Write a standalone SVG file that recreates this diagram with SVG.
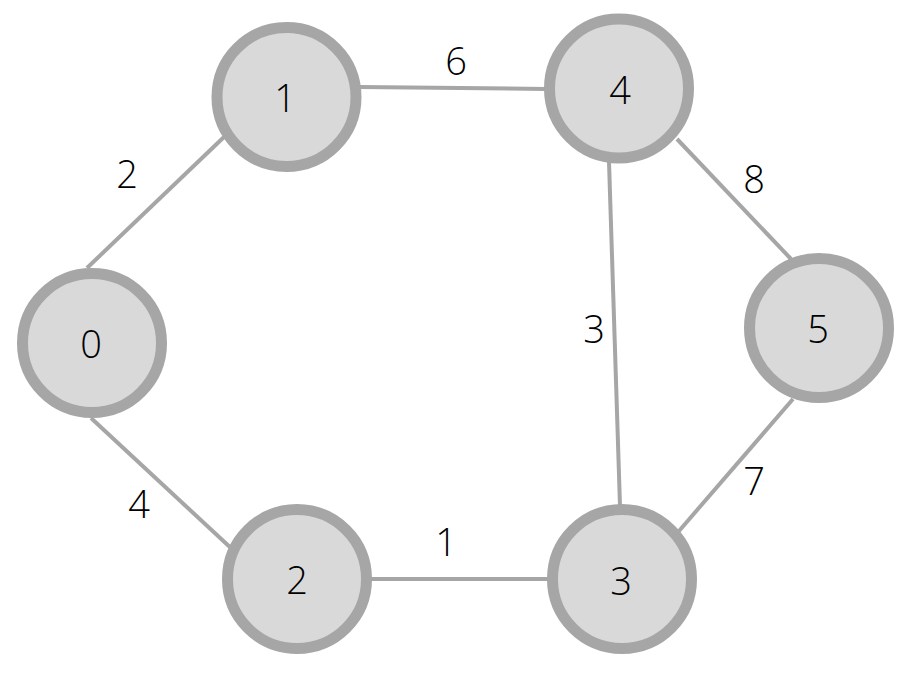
<svg xmlns="http://www.w3.org/2000/svg" width="916" height="676" viewBox="0 0 916 676">
<style>
.edge{stroke:#a6a6a6;stroke-width:4;stroke-linecap:butt;fill:none}
.node circle{fill:#d9d9d9;stroke:#a6a6a6;stroke-width:11}
text{font-family:"Open Sans","Noto Sans","DejaVu Sans",sans-serif;font-size:38px;font-weight:300;fill:#000;text-anchor:middle}
</style>
<rect width="916" height="676" fill="#fff"/>
<g id="connectors">
<line class="edge" x1="87" y1="268" x2="224" y2="137"/>
<line class="edge" x1="91" y1="418" x2="232" y2="549"/>
<line class="edge" x1="360" y1="87" x2="546" y2="89"/>
<line class="edge" x1="370" y1="579" x2="549" y2="579"/>
<line class="edge" x1="609" y1="162" x2="620" y2="506"/>
<line class="edge" x1="677" y1="139" x2="791" y2="259"/>
<line class="edge" x1="793" y1="399" x2="679" y2="531"/>
<text x="127" y="188">2</text>
<text x="139" y="518">4</text>
<text x="456" y="75">6</text>
<text x="446" y="556">1</text>
<text x="594" y="343">3</text>
<text x="754" y="193">8</text>
<text x="754" y="495">7</text>
</g>
<g id="node0" class="node"><circle cx="92" cy="343" r="69.5"/><text x="91" y="358">0</text></g>
<g id="node1" class="node"><circle cx="286.5" cy="97" r="69.5"/><text x="285" y="112">1</text></g>
<g id="node2" class="node"><circle cx="297" cy="579" r="69.5"/><text x="297" y="594">2</text></g>
<g id="node3" class="node"><circle cx="622" cy="579" r="69.5"/><text x="621" y="595">3</text></g>
<g id="node4" class="node"><circle cx="619" cy="88.5" r="69.5"/><text x="620" y="104">4</text></g>
<g id="node5" class="node"><circle cx="819" cy="328" r="69.5"/><text x="818" y="343">5</text></g>
</svg>
